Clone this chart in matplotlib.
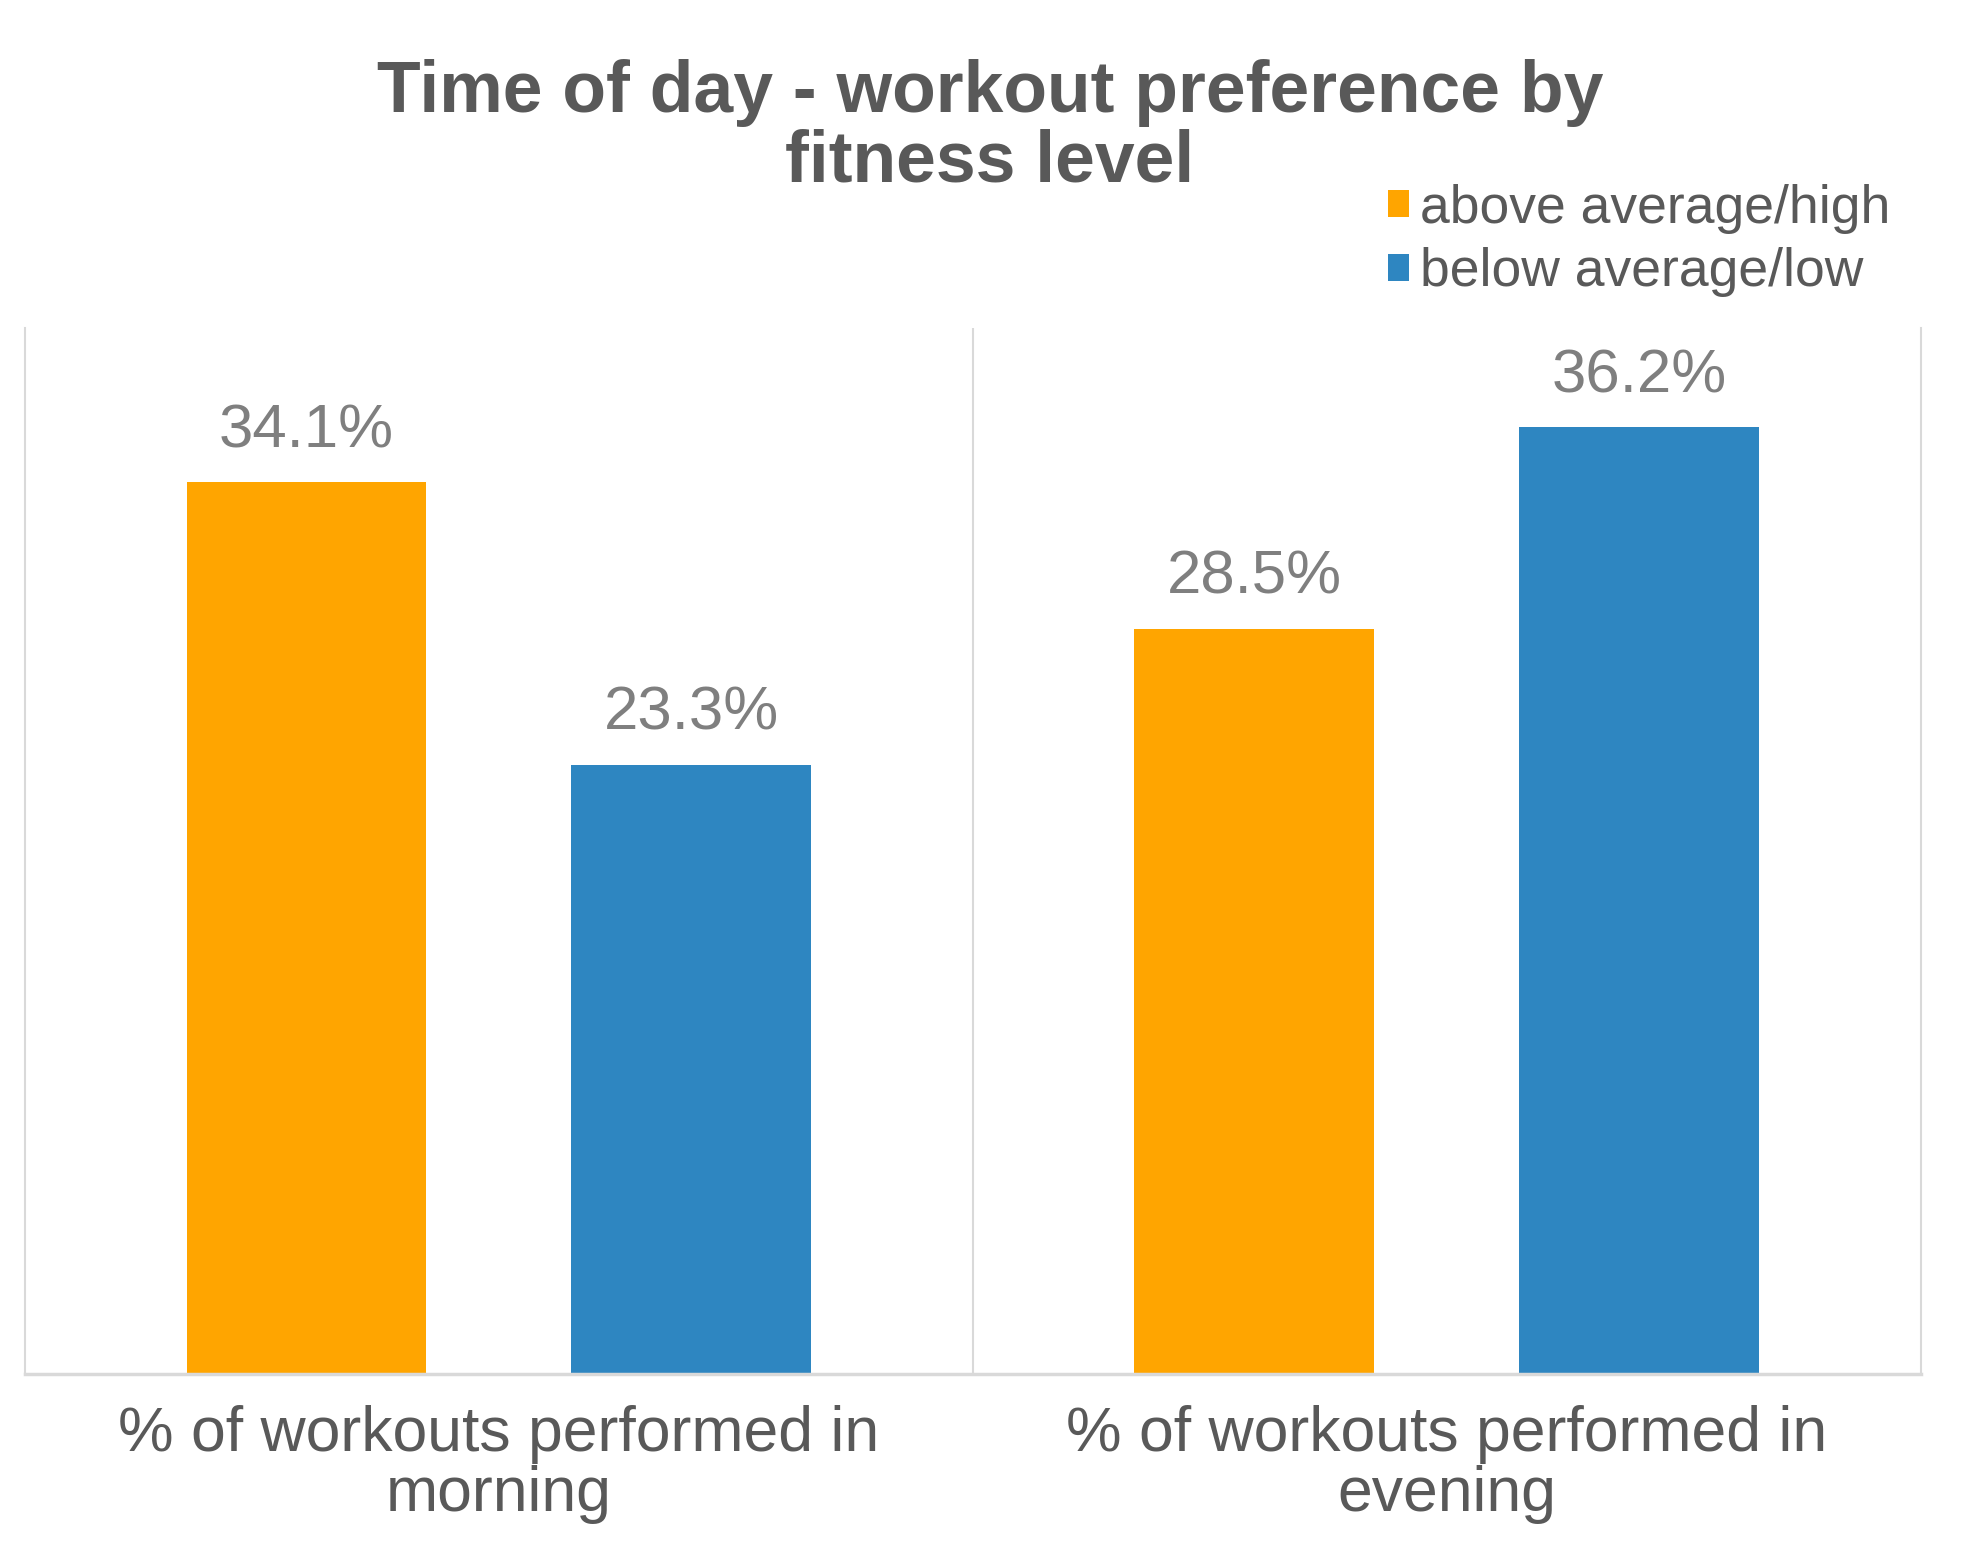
import matplotlib.pyplot as plt
import numpy as np

plt.rcParams['font.family'] = ['Liberation Sans', 'DejaVu Sans']

categories = ["% of workouts performed in\nmorning", "% of workouts performed in\nevening"]
series_names = ["above average/high", "below average/low"]
above = [34.1, 28.5]
below = [23.3, 36.2]
colors = ["#FFA500", "#2E86C1"]

fig = plt.figure(figsize=(19.8, 15.52), dpi=100)
ax = fig.add_axes([0.0126, 0.1147, 0.9574, 0.674])

x = np.arange(len(categories))
w = 0.253
off = 0.203
b1 = ax.bar(x - off, above, w, color=colors[0], label=series_names[0])
b2 = ax.bar(x + off, below, w, color=colors[1], label=series_names[1])

for bars, vals in [(b1, above), (b2, below)]:
    for rect, v in zip(bars, vals):
        ax.annotate(f"{v:.1f}%", (rect.get_x() + rect.get_width() / 2, v),
                    xytext=(0, 16), textcoords="offset points",
                    ha="center", va="bottom", fontsize=44.5, color="#7F7F7F")

ax.set_xlim(-0.5, 1.5)
ax.set_ylim(0, 40)
ax.set_yticks([])
ax.set_xticks(x)
ax.set_xticklabels(categories, fontsize=45, color="#595959", linespacing=1.03)
ax.tick_params(axis="x", length=0, pad=22)
ax.axvline(0.5, color="#D9D9D9", lw=1.5)
ax.spines["top"].set_visible(False)
for s in ["left", "right"]:
    ax.spines[s].set_color("#D9D9D9")
    ax.spines[s].set_linewidth(1.5)
ax.spines["bottom"].set_color("#D9D9D9")
ax.spines["bottom"].set_linewidth(2.5)

fig.text(0.5, 0.962, "Time of day - workout preference by\nfitness level",
         ha="center", va="top", fontsize=51.5, fontweight="bold",
         color="#595959", linespacing=1.03)

fig.legend(handles=[b1, b2], labels=series_names, loc="upper left",
           bbox_to_anchor=(0.701, 0.8815), frameon=False, fontsize=38.5,
           labelcolor="#595959", handlelength=0.4, handleheight=0.4,
           handletextpad=0.2, labelspacing=0.25, borderaxespad=0, borderpad=0)

fig.savefig("out.png", dpi=100)
